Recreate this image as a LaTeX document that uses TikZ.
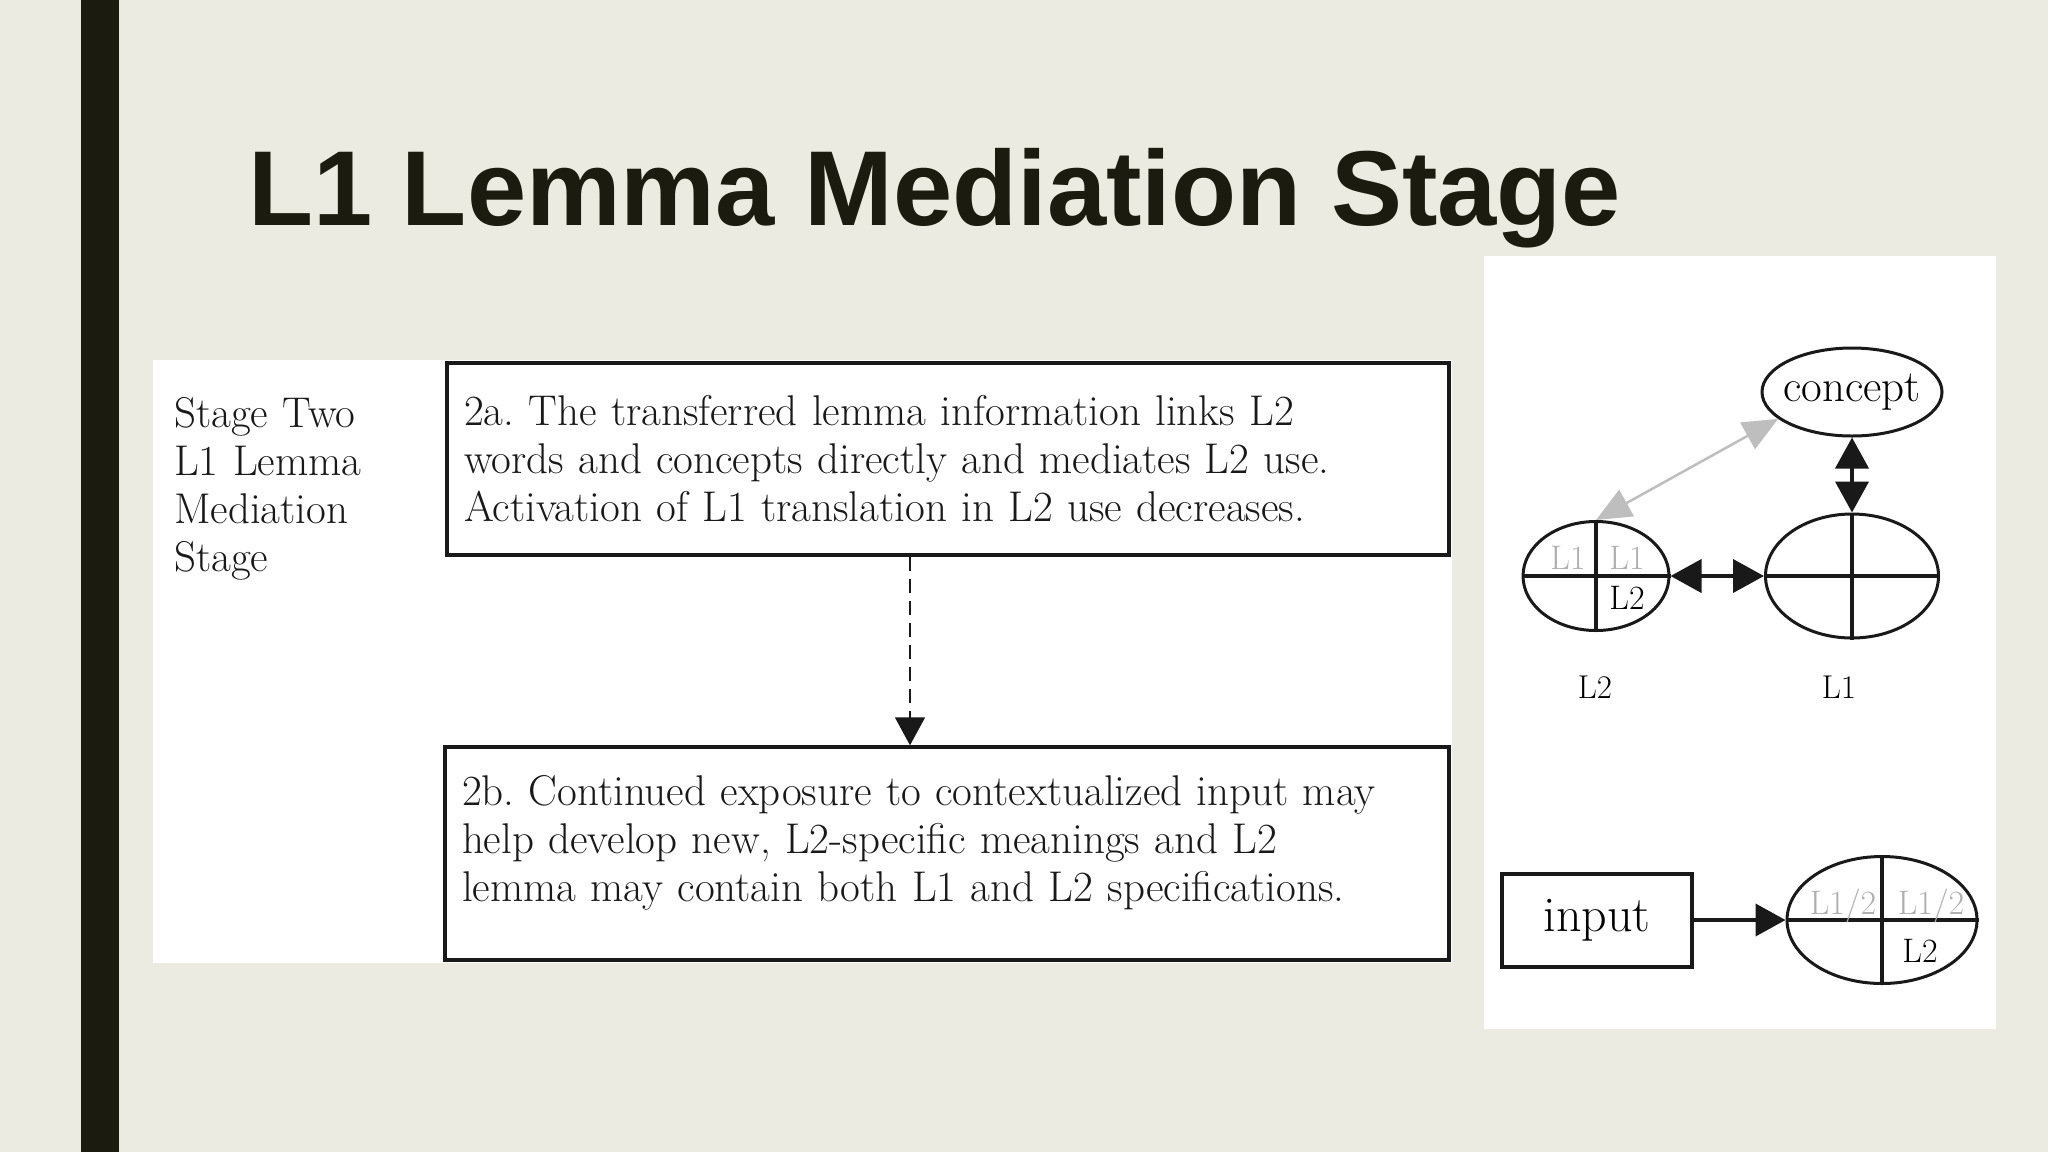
\documentclass[tikz,border=0pt]{standalone}
\usepackage{fontspec}
\newfontfamily\titlefont{Liberation Sans}
\usetikzlibrary{positioning,arrows.meta,shapes.geometric}
\definecolor{SlideBg}{RGB}{236,235,225}
\definecolor{SlideBar}{RGB}{28,27,16}
\definecolor{LemmaInk}{RGB}{25,25,25}
\definecolor{LemmaGrey}{RGB}{190,190,190}
\definecolor{LemmaFaint}{RGB}{175,175,175}
\newcommand\lemmatext{\fontsize{43}{48}\selectfont}
\newcommand\lemmasmall{\fontsize{34}{40}\selectfont}
\frenchspacing
\tikzset{
  lemma box/.style={
    draw=LemmaInk,
    line width=3.5pt,
    align=left,
    inner xsep=17pt,
    font=\lemmatext,
    text=LemmaInk
  },
  lemma oval/.style={ellipse, draw=LemmaInk, line width=3pt, inner sep=0pt, fill=white},
  lemma quad/.style={LemmaInk, line width=3.5pt},
  lemma tag/.style={font=\lemmasmall, anchor=base, inner sep=0pt},
  lemma faint/.style={lemma tag, text=LemmaFaint},
  lemma dash/.style={-{Triangle[length=28pt,width=30pt]}, line width=2pt, LemmaInk, dash pattern=on 14pt off 8pt},
  lemma link/.style={{Triangle[length=31pt,width=33pt]}-{Triangle[length=31pt,width=33pt]}, line width=4pt, LemmaInk},
  lemma grey link/.style={{Triangle[length=35pt,width=30pt]}-{Triangle[length=35pt,width=30pt]}, line width=2.5pt, LemmaGrey}
}
\begin{document}
\begin{tikzpicture}[x=1pt,y=-1pt]
\useasboundingbox (0,0) rectangle (2048,1152);
% slide
\fill[SlideBg] (0,0) rectangle (2048,1152);
\fill[SlideBar] (81,0) rectangle (119,1152);
\fill[white] (153,360) rectangle (1452,963);
\fill[white] (1484,256) rectangle (1996,1029);
\node[anchor=base west, inner sep=0pt, font=\titlefont\bfseries\fontsize{106.5}{120}\selectfont, text=SlideBar] (title) at (248,225) {L1 Lemma Mediation Stage};

% left figure
\node[anchor=base west, inner sep=0pt, text width=270pt, align=left, font=\lemmatext, text=LemmaInk] (stage) at (174,427) {Stage Two\\L1 Lemma\\Mediation\\Stage};
\node[lemma box, text width=968pt, minimum height=192pt] (twoa) at (948,459)
  {2a. The transferred lemma information links L2\\words and concepts directly and mediates L2 use.\\Activation of L1 translation in L2 use decreases.};
\node[lemma box, text width=970pt, minimum height=213pt] (twob) at (947,853.5)
  {2b. Continued exposure to contextualized input may\\help develop new, L2-specific meanings and L2\\lemma may contain both L1 and L2 specifications.\rule[-30pt]{0pt}{30pt}};
\draw[lemma dash] ([xshift=-38pt]twoa.south) -- ([xshift=-37pt]twob.north);

% right figure
\node[lemma oval, inner xsep=-6pt, minimum width=180pt, minimum height=88pt, font=\fontsize{45}{48}\selectfont] (concept) at (1852,392) {concept};
\node[lemma oval, minimum width=146pt, minimum height=109pt] (ltwo) at (1596,576) {};
\node[lemma oval, minimum width=173pt, minimum height=124pt] (lone) at (1852,576) {};
\draw[lemma quad] (ltwo.north) -- (ltwo.south) (ltwo.west) -- (ltwo.east);
\draw[lemma quad] (lone.north) -- (lone.south) (lone.west) -- (lone.east);
\node[lemma faint] (ltwoa) at (1568,569) {L1};
\node[lemma faint] (ltwob) at (1627,569) {L1};
\node[lemma tag] (ltwoc) at (1627,609) {L2};
\node[lemma tag, font=\fontsize{33}{38}\selectfont] (ltwoname) at (1595,698) {L2};
\node[lemma tag, font=\fontsize{33}{38}\selectfont] (lonename) at (1839,698) {L1};
\draw[lemma link] (concept.south) -- (lone.north);
\draw[lemma link] (ltwo.east) -- (lone.west);
\draw[lemma grey link] (ltwo.north) -- (concept.200);

\node[draw=LemmaInk, line width=4pt, minimum width=190pt, minimum height=93pt, inner sep=0pt, font=\fontsize{50}{54}\selectfont] (input) at (1597,920) {input};
\node[lemma oval, minimum width=190pt, minimum height=127pt] (inoval) at (1882,920) {};
\draw[lemma quad] (inoval.north) -- (inoval.south) (inoval.west) -- (inoval.east);
\node[lemma faint] (inovala) at (1843,914) {L1/2};
\node[lemma faint] (inovalb) at (1931,914) {L1/2};
\node[lemma tag] (inovalc) at (1920,962) {L2};
\draw[-{Triangle[length=30pt,width=32pt]}, line width=4pt, LemmaInk] (input) -- (inoval);
\end{tikzpicture}
\end{document}
